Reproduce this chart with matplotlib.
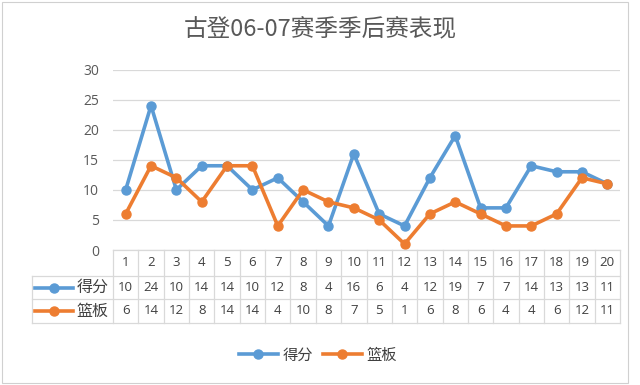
import matplotlib
matplotlib.use('Agg')
import matplotlib.pyplot as plt
import matplotlib.transforms as mtransforms
from matplotlib.lines import Line2D
from matplotlib.patches import Rectangle

plt.rcParams['font.family'] = ['Noto Sans CJK SC', 'DejaVu Sans']

# Data
games = list(range(1, 21))
points = [10, 24, 10, 14, 14, 10, 12, 8, 4, 16, 6, 4, 12, 19, 7, 7, 14, 13, 13, 11]
rebounds = [6, 14, 12, 8, 14, 14, 4, 10, 8, 7, 5, 1, 6, 8, 6, 4, 4, 6, 12, 11]
series_names = ['得分', '篮板']
title = '古登06-07赛季季后赛表现'

BLUE = '#5B9BD5'
ORANGE = '#ED7D31'
GRID = '#D9D9D9'
TXT = '#404040'

W, H = 640, 385
fig = plt.figure(figsize=(W / 100, H / 100), dpi=100)


def fx(x):
    return x / W


def fy(y):
    return 1 - y / H


# outer chart border
fig.add_artist(Rectangle((fx(2), fy(383)), fx(626), 381 / H, fill=False,
                         edgecolor='#D0D0D0', linewidth=0.8, transform=fig.transFigure))

# plot area
x0, x1, y0, y30 = 113, 620, 250, 69.5
ax = fig.add_axes([fx(x0), fy(y0), fx(x1 - x0), (y0 - y30) / H])
xs = list(range(len(games)))
ax.plot(xs, points, color=BLUE, lw=2.6, marker='o', ms=6.5, solid_joinstyle='round')
ax.plot(xs, rebounds, color=ORANGE, lw=2.6, marker='o', ms=6.5, solid_joinstyle='round')
ax.set_xlim(-0.5, len(games) - 0.5)
ax.set_ylim(0, 30)
ax.set_yticks(range(0, 31, 5))
ax.set_xticks([])
for s in ax.spines.values():
    s.set_visible(False)
ax.grid(axis='y', color=GRID, lw=0.9)
ax.set_axisbelow(True)
ax.tick_params(axis='y', length=0, labelsize=10, labelcolor='#595959', pad=10)
for lbl in ax.get_yticklabels():
    lbl.set_fontfamily(['Open Sans', 'DejaVu Sans'])

# title
fig.text(0.5, fy(29), title, ha='center', va='center', fontsize=17, color='#595959')

# data table below the plot
tr = mtransforms.blended_transform_factory(ax.transData, ax.transAxes)
ph = y0 - y30


def ay(y):
    return (y0 - y) / ph


rows_y = [250, 276, 299, 323]
row_c = [(rows_y[i] + rows_y[i + 1]) / 2 for i in range(3)]
lc = dict(color=GRID, lw=0.9, clip_on=False)

# horizontal borders
ax.plot([-0.5, len(games) - 0.5], [ay(250)] * 2, transform=tr, **lc)
for yy in rows_y[1:]:
    fig.add_artist(Line2D([fx(32), fx(x1)], [fy(yy)] * 2, transform=fig.transFigure,
                          color=GRID, lw=0.9))
# vertical borders
for i in range(len(games) + 1):
    ax.plot([i - 0.5] * 2, [ay(250), ay(323)], transform=tr, **lc)
fig.add_artist(Line2D([fx(32)] * 2, [fy(276), fy(323)], transform=fig.transFigure,
                      color=GRID, lw=0.9))

fs = 9.5
for i, g in enumerate(games):
    ax.text(i, ay(row_c[0]), str(g), transform=tr, ha='center', va='center',
            fontsize=fs, color=TXT, fontfamily=['Open Sans', 'DejaVu Sans'])
    ax.text(i, ay(row_c[1]), str(points[i]), transform=tr, ha='center', va='center',
            fontsize=fs, color=TXT, fontfamily=['Open Sans', 'DejaVu Sans'])
    ax.text(i, ay(row_c[2]), str(rebounds[i]), transform=tr, ha='center', va='center',
            fontsize=fs, color=TXT, fontfamily=['Open Sans', 'DejaVu Sans'])

# row headers with legend keys
for yc, name, col in [(row_c[1], series_names[0], BLUE), (row_c[2], series_names[1], ORANGE)]:
    fig.add_artist(Line2D([fx(35), fx(73)], [fy(yc)] * 2, transform=fig.transFigure,
                          color=col, lw=2.6))
    fig.add_artist(Line2D([fx(54)], [fy(yc)], transform=fig.transFigure,
                          color=col, marker='o', ms=6.5, lw=0))
    fig.text(fx(109), fy(yc), name, ha='right', va='center', fontsize=11.5, color=TXT)

# bottom legend
handles = [Line2D([], [], color=BLUE, lw=2.6, marker='o', ms=6.5),
           Line2D([], [], color=ORANGE, lw=2.6, marker='o', ms=6.5)]
fig.legend(handles, series_names, loc='center', bbox_to_anchor=(fx(318), fy(355)),
           ncol=2, frameon=False, fontsize=11, labelcolor=TXT, handlelength=2.6,
           handletextpad=0.3, columnspacing=0.6)

fig.savefig('out.png', dpi=100, facecolor='white')
